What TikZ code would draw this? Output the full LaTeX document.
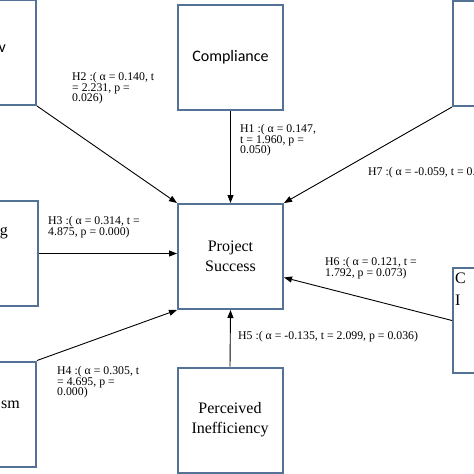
\documentclass[tikz,border=0pt]{standalone}
\usepackage{fontspec}
\setmainfont{Liberation Serif}
\newfontfamily\califont{Carlito}
\usetikzlibrary{arrows.meta}
\definecolor{boxblue}{RGB}{84,114,150}

\begin{document}
\begin{tikzpicture}[x=1pt,y=-1pt,
  box/.style={draw=boxblue,line width=2pt,minimum width=105pt,minimum height=105pt,inner sep=0pt,align=center,font=\fontsize{16}{20}\selectfont},
  frag/.style={inner sep=0pt,font=\fontsize{16}{20}\selectfont},
  hyp/.style={inner sep=0pt,anchor=north west,align=left,font=\fontsize{11.8}{10.7}\selectfont},
  path/.style={line width=0.9pt,-{Triangle[length=8pt,width=6pt]}}]
\useasboundingbox (0,0) rectangle (474,474);

\node[box] (ps) at (230.5,256.5) {Project\\Success};
\node[box] (comp) at (230.5,57.5) {\califont Compliance};
\node[box] (pi) at (230,420) {Perceived\\Inefficiency};
\node[box] (tl) at (-16.5,52.5) {};
\node[box] (tr) at (505.5,53.5) {};
\node[box] (lm) at (-14.5,253.5) {};
\node[box] (bl) at (-16.5,414) {};
\node[box] (rb) at (505.5,320.5) {};

\node[frag,anchor=east] (tltxt) at (6,49) {\califont v};
\node[frag,anchor=east] (lmtxt) at (8,233) {g};
\node[frag,anchor=east] (bltxt) at (20,405) {sm};
\node[frag,anchor=west] (rbtxt) at (455,278) {C};
\node[frag,anchor=west] (rbtxt2) at (455,300) {I};

\draw[path] (tl.south east) -- (ps.north west);
\draw[path] (comp.south) -- (ps.north);
\draw[path] (tr.south west) -- (ps.north east);
\draw[path] (lm.east) -- (lm.east -| ps.west);
\draw[path] (rb.west) -- ([yshift=-21pt]ps.east);
\draw[path] (bl.north east) -- (ps.south west);
\draw[path] (pi.north) -- (ps.south);

\node[hyp] (h2) at (72,72) {H2 :( α = 0.140, t\\= 2.231, p =\\0.026)};
\node[hyp] (h1) at (240,124) {H1 :( α = 0.147,\\t = 1.960, p =\\0.050)};
\node[hyp] (h7) at (368,167) {H7 :( α = -0.059, t = 0.};
\node[hyp] (h3) at (48,216) {H3 :( α = 0.314, t =\\4.875, p = 0.000)};
\node[hyp] (h4) at (57,366) {H4 :( α = 0.305, t\\= 4.695, p =\\0.000)};
\node[hyp] (h5) at (238,331) {H5 :( α = -0.135, t = 2.099, p = 0.036)};
\node[hyp] (h6) at (325,257) {H6 :( α = 0.121, t =\\1.792, p = 0.073)};
\end{tikzpicture}
\end{document}
